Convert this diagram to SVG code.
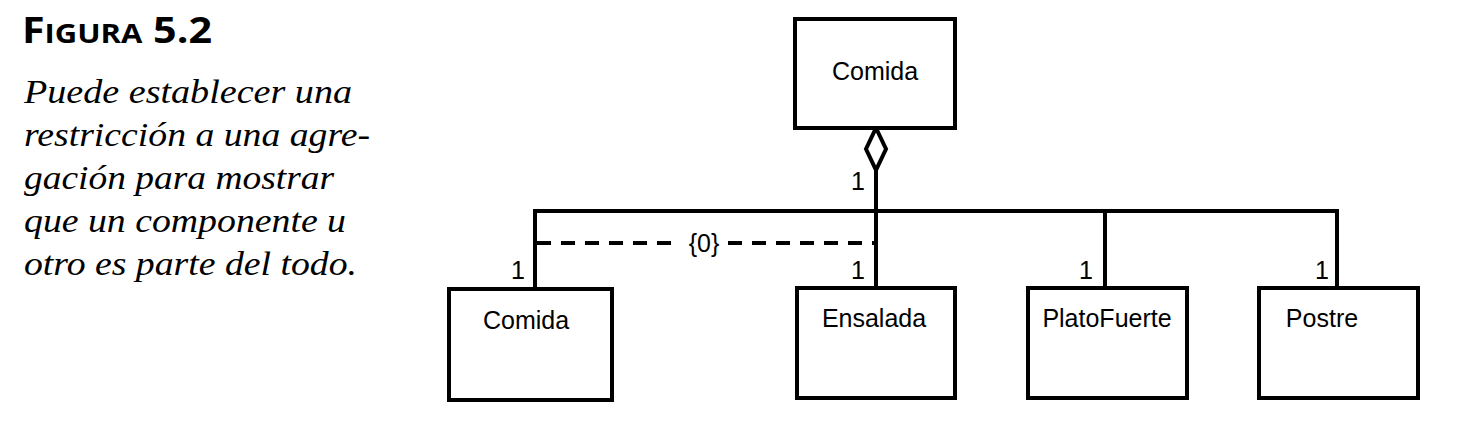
<svg xmlns="http://www.w3.org/2000/svg" width="1483" height="437" viewBox="0 0 1483 437">
<style>
.box{fill:#fff;stroke:#000;stroke-width:4}
.ln{stroke:#000;stroke-width:4;fill:none}
.lbl{font-family:"Liberation Sans",Arial,sans-serif;font-size:25px;fill:#000}
.cap{font-family:"Liberation Serif","Times New Roman",serif;font-style:italic;font-size:33px;fill:#000}
</style>
<rect width="1483" height="437" fill="#fff"/>
<text x="22" y="43" font-family="'Open Sans','DejaVu Sans',sans-serif" font-weight="bold" font-size="36" fill="#000" textLength="190" lengthAdjust="spacingAndGlyphs">F<tspan font-size="27">IGURA</tspan> 5.2</text>
<text class="cap" x="24" y="103" textLength="328" lengthAdjust="spacingAndGlyphs">Puede establecer una</text>
<text class="cap" x="24" y="146" textLength="346" lengthAdjust="spacingAndGlyphs">restricción a una agre-</text>
<text class="cap" x="24" y="189" textLength="310" lengthAdjust="spacingAndGlyphs">gación para mostrar</text>
<text class="cap" x="24" y="232" textLength="322" lengthAdjust="spacingAndGlyphs">que un componente u</text>
<text class="cap" x="24" y="275" textLength="333" lengthAdjust="spacingAndGlyphs">otro es parte del todo.</text>
<g id="connectors">
<path class="ln" d="M876 170V288M535 288V211H1337V288M1105 211V288"/>
<path class="ln" d="M876 128L886 149L876 170L866 149Z" fill="#fff"/>
<path class="ln" d="M537 243H680M728 243H876" stroke-dasharray="14,10" stroke-width="3"/>
<text class="lbl" x="704" y="252" text-anchor="middle">{0}</text>
<text class="lbl" x="858" y="190" text-anchor="middle">1</text>
<text class="lbl" x="518" y="279" text-anchor="middle">1</text>
<text class="lbl" x="858" y="279" text-anchor="middle">1</text>
<text class="lbl" x="1086" y="279" text-anchor="middle">1</text>
<text class="lbl" x="1322" y="279" text-anchor="middle">1</text>
</g>
<g id="comida-top"><rect class="box" x="795" y="19" width="160" height="109"/><text class="lbl" x="875" y="80" text-anchor="middle">Comida</text></g>
<g id="comida"><rect class="box" x="449" y="289" width="163" height="111"/><text class="lbl" x="526" y="329" text-anchor="middle">Comida</text></g>
<g id="ensalada"><rect class="box" x="797" y="288" width="158" height="110"/><text class="lbl" x="874" y="327" text-anchor="middle">Ensalada</text></g>
<g id="platofuerte"><rect class="box" x="1028" y="288" width="159" height="110"/><text class="lbl" x="1107" y="327" text-anchor="middle">PlatoFuerte</text></g>
<g id="postre"><rect class="box" x="1259" y="288" width="159" height="110"/><text class="lbl" x="1322" y="327" text-anchor="middle">Postre</text></g>
</svg>
